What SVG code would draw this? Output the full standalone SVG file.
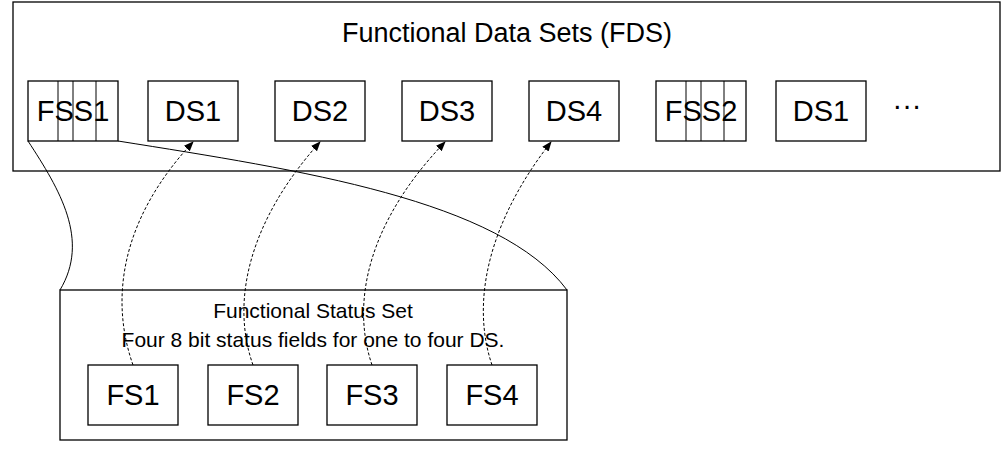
<svg xmlns="http://www.w3.org/2000/svg" width="1005" height="451" viewBox="0 0 1005 451">
<style>
.b{fill:#fff;stroke:#000;stroke-width:1.3}
.t{font-family:"Liberation Sans",Arial,sans-serif;font-size:29px;text-anchor:middle}
.s{font-family:"Liberation Sans",Arial,sans-serif;font-size:21px;text-anchor:middle}
.c{fill:none;stroke:#000;stroke-width:1}
.d{fill:none;stroke:#000;stroke-width:1;stroke-dasharray:3,2;marker-end:url(#a)}
</style>
<defs><marker id="a" markerWidth="10" markerHeight="10" refX="9" refY="5" orient="auto" markerUnits="userSpaceOnUse"><path d="M0,1 L10,5 L0,9 Z"/></marker></defs>
<rect x="0" y="0" width="1005" height="451" fill="#fff"/>
<g id="fds"><rect class="b" x="13" y="2" width="987" height="169"/><text class="t" x="507" y="42" style="font-size:27px">Functional Data Sets (FDS)</text></g>
<g id="fss1"><rect class="b" x="28" y="81" width="90" height="60"/><path class="c" d="M58,81V141M73,81V141M96,81V141"/><text class="t" x="73" y="121">FSS1</text></g>
<g id="ds1"><rect class="b" x="148" y="81" width="90" height="60"/><text class="t" x="193" y="121">DS1</text></g>
<g id="ds2"><rect class="b" x="275" y="81" width="90" height="60"/><text class="t" x="320" y="121">DS2</text></g>
<g id="ds3"><rect class="b" x="402" y="81" width="90" height="60"/><text class="t" x="447" y="121">DS3</text></g>
<g id="ds4"><rect class="b" x="529" y="81" width="90" height="60"/><text class="t" x="574" y="121">DS4</text></g>
<g id="fss2"><rect class="b" x="656" y="81" width="90" height="60"/><path class="c" d="M686,81V141M701,81V141M724,81V141"/><text class="t" x="701" y="121">FSS2</text></g>
<g id="ds1b"><rect class="b" x="776" y="81" width="90" height="60"/><text class="t" x="821" y="121">DS1</text></g>
<g id="dots"><text class="t" x="907" y="115">···</text></g>
<g id="fs"><rect class="b" x="60" y="290" width="507" height="150"/><text class="s" x="313" y="318">Functional Status Set</text><text class="s" x="313" y="347">Four 8 bit status fields for one to four DS.</text></g>
<g id="fs1"><rect class="b" x="88" y="365" width="90" height="60"/><text class="t" x="133" y="405">FS1</text></g>
<g id="fs2"><rect class="b" x="208" y="365" width="90" height="60"/><text class="t" x="253" y="405">FS2</text></g>
<g id="fs3"><rect class="b" x="327" y="365" width="90" height="60"/><text class="t" x="372" y="405">FS3</text></g>
<g id="fs4"><rect class="b" x="447" y="365" width="90" height="60"/><text class="t" x="492" y="405">FS4</text></g>
<g id="connectors">
<path class="c" d="M28,141 C60,190 90,240 60,290"/>
<path class="c" d="M118,141 C300,170 500,200 567,290"/>
<path class="d" d="M133,365 C110,300 120,220 193,142"/>
<path class="d" d="M253,365 C230,300 250,220 320,142"/>
<path class="d" d="M372,365 C350,300 370,220 445,142"/>
<path class="d" d="M492,365 C470,300 490,220 551,142"/>
</g>
</svg>
